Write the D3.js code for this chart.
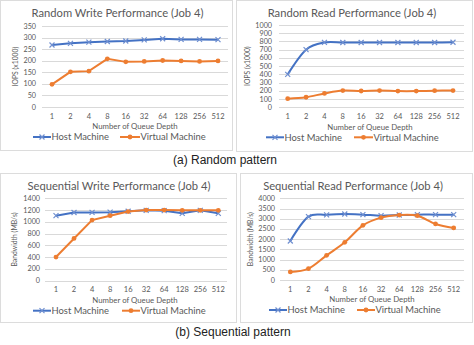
<!DOCTYPE html>
<html>
<head>
<meta charset="utf-8">
<script src="https://cdn.jsdelivr.net/npm/d3@7"></script>
<style>
  body { margin: 0; background: #fff; }
  svg text { fill: #595959; }
</style>
</head>
<body>
<svg id="chart" width="474" height="345"></svg>
<script>
// queue depths (x categories)
var depths = ["1", "2", "4", "8", "16", "32", "64", "128", "256", "512"];

// IOPS (x1000)
var randWriteHost = [268, 275, 280, 283, 285, 290, 295, 292, 292, 291];
var randWriteVM   = [98, 152, 155, 208, 195, 197, 201, 199, 197, 199];
var randReadHost  = [400, 700, 788, 787, 787, 787, 787, 787, 787, 790];
var randReadVM    = [105, 122, 168, 203, 198, 203, 197, 197, 202, 203];

// bandwidth (MB/s)
var seqWriteHost = [1105, 1158, 1160, 1165, 1180, 1195, 1190, 1145, 1195, 1145];
var seqWriteVM   = [402, 718, 1030, 1105, 1175, 1200, 1200, 1195, 1195, 1195];
var seqReadHost  = [1910, 3100, 3190, 3230, 3200, 3150, 3180, 3200, 3200, 3200];
var seqReadVM    = [395, 555, 1208, 1845, 2677, 3053, 3180, 3150, 2745, 2550];

var seriesNames = ["Host Machine", "Virtual Machine"];
var blue = "#4472c4", orange = "#ed7d31";

var svg = d3.select("#chart");
var font = "Lato, 'Open Sans', sans-serif";

var panels = [
  {x: 0, y: 0, w: 232, h: 150, title: "Random Write Performance (Job 4)", titleX: 117.5,
   yLabel: "IOPS (x1000)", yMax: 350, yStep: 50, host: randWriteHost, vm: randWriteVM, smooth: false,
   px: [52, 218], py: [107, 26], grid: [42, 228], tickX: 36, yTitleX: 16, xTitleX: 135,
   leg: [33, 51, 120, 140]},
  {x: 236, y: 0, w: 236, h: 151, title: "Random Read Performance (Job 4)", titleX: 116,
   yLabel: "IOPS (x1000)", yMax: 1000, yStep: 100, host: randReadHost, vm: randReadVM, smooth: true,
   px: [51.7, 217], py: [107.3, 25], grid: [43, 228], tickX: 36, yTitleX: 12, xTitleX: 134,
   leg: [30, 48, 118, 137]},
  {x: 0, y: 173, w: 236, h: 149, title: "Sequential Write Performance (Job 4)", titleX: 119,
   yLabel: "Bandwidth (MB/s)", yMax: 1400, yStep: 200, host: seqWriteHost, vm: seqWriteVM, smooth: false,
   px: [56, 218.3], py: [107.7, 25.3], grid: [45, 227], tickX: 40, yTitleX: 15, xTitleX: 135,
   leg: [33, 51, 122, 140]},
  {x: 240, y: 173, w: 232, h: 149, title: "Sequential Read Performance (Job 4)", titleX: 113,
   yLabel: "Bandwidth (MB/s)", yMax: 4000, yStep: 500, host: seqReadHost, vm: seqReadVM, smooth: true,
   px: [50.3, 213.7], py: [107, 25.3], grid: [40, 224], tickX: 35, yTitleX: 11, xTitleX: 132,
   leg: [29, 47, 117, 135]}
];

panels.forEach(drawPanel);

function drawPanel(p) {
  var g = svg.append("g").attr("transform", "translate(" + p.x + "," + p.y + ")");

  g.append("rect")
      .attr("x", 0.5).attr("y", 0.5)
      .attr("width", p.w).attr("height", p.h)
      .attr("fill", "#fff")
      .attr("stroke", "#dcdcdc");

  var x = d3.scalePoint().domain(depths).range(p.px);
  var y = d3.scaleLinear().domain([0, p.yMax]).range(p.py);
  var ticks = d3.range(0, p.yMax + 1, p.yStep);

  g.append("text")
      .attr("x", p.titleX).attr("y", 13)
      .attr("text-anchor", "middle")
      .attr("dy", "0.35em")
      .style("font", "11.2px " + font)
      .text(p.title);

  // gridlines
  g.append("g").selectAll("line")
      .data(ticks)
    .enter().append("line")
      .attr("x1", p.grid[0]).attr("x2", p.grid[1])
      .attr("y1", function(d) { return Math.round(y(d)) + 0.5; })
      .attr("y2", function(d) { return Math.round(y(d)) + 0.5; })
      .attr("stroke", "#d9d9d9");

  // y tick labels
  g.append("g").selectAll("text")
      .data(ticks)
    .enter().append("text")
      .attr("x", p.tickX).attr("y", function(d) { return y(d); })
      .attr("dy", "0.35em")
      .attr("text-anchor", "end")
      .style("font", "7.2px " + font)
      .text(function(d) { return d; });

  // x tick labels
  g.append("g").selectAll("text")
      .data(depths)
    .enter().append("text")
      .attr("x", function(d) { return x(d); })
      .attr("y", p.py[0] + 9)
      .attr("dy", "0.35em")
      .attr("text-anchor", "middle")
      .style("font", "7.5px " + font)
      .text(function(d) { return d; });

  g.append("text")
      .attr("x", p.xTitleX).attr("y", p.py[0] + 19.5)
      .attr("dy", "0.35em")
      .attr("text-anchor", "middle")
      .style("font", "7.8px " + font)
      .text("Number of Queue Depth");

  g.append("text")
      .attr("transform", "translate(" + p.yTitleX + "," + (p.py[0] + p.py[1]) / 2 + ") rotate(-90)")
      .attr("dy", "0.35em")
      .attr("text-anchor", "middle")
      .style("font", "6.8px " + font)
      .text(p.yLabel);

  var line = d3.line()
      .x(function(d, i) { return x(depths[i]); })
      .y(function(d) { return y(d); })
      .curve(p.smooth ? d3.curveCatmullRom.alpha(0) : d3.curveLinear);

  var series = [{vals: p.host, color: blue, mark: "x"}, {vals: p.vm, color: orange, mark: "o"}];

  series.forEach(function(s) {
    g.append("path")
        .datum(s.vals)
        .attr("d", line)
        .attr("fill", "none")
        .attr("stroke", s.color)
        .attr("stroke-width", 2);
    drawMarkers(g, s, s.vals.map(function(v, i) { return [x(depths[i]), y(v)]; }));
  });

  // legend
  var ly = p.py[0] + 30;
  series.forEach(function(s, i) {
    var lx = p.leg[i * 2], tx = p.leg[i * 2 + 1];
    g.append("line")
        .attr("x1", lx).attr("x2", tx)
        .attr("y1", ly).attr("y2", ly)
        .attr("stroke", s.color)
        .attr("stroke-width", 2);
    drawMarkers(g, s, [[(lx + tx) / 2, ly]]);
    g.append("text")
        .attr("x", tx + 0.5).attr("y", ly)
        .attr("dy", "0.35em")
        .style("font", "9.4px " + font)
        .text(seriesNames[i]);
  });
}

function drawMarkers(g, s, pts) {
  if (s.mark === "o") {
    g.append("g").selectAll("circle")
        .data(pts)
      .enter().append("circle")
        .attr("cx", function(d) { return d[0]; })
        .attr("cy", function(d) { return d[1]; })
        .attr("r", 2.4)
        .attr("fill", s.color);
  } else {
    g.append("g").selectAll("path")
        .data(pts)
      .enter().append("path")
        .attr("d", function(d) {
          var r = 2.5;
          return "M" + (d[0] - r) + "," + (d[1] - r) + "L" + (d[0] + r) + "," + (d[1] + r) +
                 "M" + (d[0] - r) + "," + (d[1] + r) + "L" + (d[0] + r) + "," + (d[1] - r);
        })
        .attr("stroke", "#6f8fd0")
        .attr("stroke-width", 1.2)
        .attr("fill", "none");
  }
}

// captions
svg.append("text")
    .attr("x", 225).attr("y", 160)
    .attr("dy", "0.35em")
    .attr("text-anchor", "middle")
    .style("font", "12px 'Liberation Sans', Arial, sans-serif")
    .style("fill", "#222")
    .text("(a) Random pattern");

svg.append("text")
    .attr("x", 233).attr("y", 332)
    .attr("dy", "0.35em")
    .attr("text-anchor", "middle")
    .style("font", "12px 'Liberation Sans', Arial, sans-serif")
    .style("fill", "#222")
    .text("(b) Sequential pattern");
</script>
</body>
</html>
